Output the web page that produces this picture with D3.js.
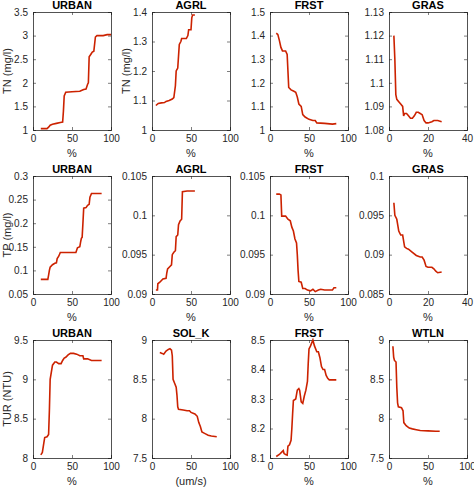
<!DOCTYPE html>
<html><head><meta charset="utf-8">
<script src="https://cdn.jsdelivr.net/npm/d3@7"></script>
<style>body{margin:0;background:#fff}text{font-family:"Liberation Sans",Arial,sans-serif}</style>
</head><body><svg id="c" width="474" height="487"></svg>
<script>
const titles=[["URBAN","AGRL","FRST","GRAS"],["URBAN","AGRL","FRST","GRAS"],["URBAN","SOL_K","FRST","WTLN"]];
const yLabels=[["TN (mg/l)","TN (mg/l)","",""],["TP (mg/l)","","",""],["TUR (NTU)","","",""]];
const xLabels=[["%","%","%","%"],["%","%","%","%"],["%","(um/s)","%","%"]];
const xDomains=[[[0,100],[0,100],[0,100],[0,40]],[[0,100],[0,100],[0,100],[0,40]],[[0,100],[0,100],[0,100],[0,100]]];
const xTicks=[[[0,50,100],[0,50,100],[0,50,100],[0,20,40]],[[0,50,100],[0,50,100],[0,50,100],[0,20,40]],[[0,50,100],[0,50,100],[0,50,100],[0,50,100]]];
const yTicks=[
 [[1,1.5,2,2.5,3,3.5],[1,1.1,1.2,1.3,1.4],[1,1.1,1.2,1.3,1.4,1.5],[1.08,1.09,1.1,1.11,1.12,1.13]],
 [[0.05,0.1,0.15,0.2,0.25,0.3],[0.09,0.095,0.1,0.105],[0.09,0.095,0.1,0.105],[0.085,0.09,0.095,0.1]],
 [[8,8.5,9,9.5],[7.5,8,8.5,9],[8.1,8.2,8.3,8.4,8.5],[7.5,8,8.5,9]]];
const tnUrban=[[10,1.03],[18,1.03],[20,1.06],[22,1.1],[25,1.12],[30,1.14],[35,1.16],[38,1.17],[39,1.4],[40,1.72],[42,1.8],[50,1.81],[60,1.82],[65,1.86],[68,1.87],[70,1.97],[71,2.0],[72,2.55],[74,2.6],[76,2.65],[78,2.67],[80,2.97],[82,3.0],[90,3.0],[95,3.02],[100,3.02]];
const tnAgrl=[[5,1.083],[8,1.09],[12,1.092],[16,1.093],[18,1.097],[22,1.1],[26,1.105],[28,1.11],[30,1.15],[31,1.2],[33,1.21],[34,1.25],[35,1.29],[37,1.3],[38,1.31],[44,1.31],[46,1.32],[47,1.34],[50,1.34],[51,1.38],[52,1.39],[55,1.39]];
const tnFrst=[[8,1.41],[10,1.405],[12,1.38],[14,1.35],[16,1.335],[20,1.335],[22,1.32],[23,1.25],[24,1.18],[27,1.17],[30,1.165],[33,1.16],[35,1.14],[37,1.11],[40,1.1],[42,1.065],[45,1.055],[50,1.045],[55,1.04],[58,1.04],[60,1.03],[70,1.028],[80,1.025],[85,1.027]];
const tnGras=[[2.5,1.12],[3,1.11],[3.5,1.095],[4,1.093],[5,1.092],[6,1.091],[7,1.09],[7.5,1.086],[8,1.087],[9,1.087],[10,1.086],[11,1.085],[12,1.085],[13,1.086],[14,1.0875],[15,1.0875],[16,1.087],[17,1.0865],[18,1.084],[19,1.083],[20,1.083],[22,1.0835],[23,1.084],[25,1.084],[27,1.0835]];
const tpUrban=[[10,0.081],[19,0.081],[20,0.09],[21,0.1],[22,0.107],[25,0.112],[28,0.115],[30,0.116],[31,0.125],[33,0.13],[35,0.138],[40,0.138],[50,0.138],[55,0.138],[57,0.148],[60,0.15],[61,0.16],[62,0.168],[63,0.17],[64,0.2],[65,0.232],[68,0.233],[70,0.238],[72,0.24],[73,0.255],[75,0.263],[88,0.263]];
const tpAgrl=[[5,0.0905],[7,0.0905],[7.5,0.0913],[10,0.0915],[14,0.0919],[18,0.092],[19,0.0927],[20,0.0932],[23,0.0935],[25,0.0937],[26,0.095],[28,0.0953],[30,0.0955],[31,0.0973],[33,0.0975],[34,0.0988],[36,0.0993],[38,0.0995],[39,0.103],[45,0.1031],[55,0.1031]];
const tpFrst=[[8,0.1027],[12,0.1027],[14,0.1026],[15,0.0999],[20,0.0999],[23,0.0995],[26,0.0993],[28,0.0985],[30,0.098],[32,0.097],[34,0.0965],[35,0.095],[36,0.093],[37,0.0916],[40,0.0915],[42,0.0907],[45,0.0907],[48,0.0905],[52,0.0904],[55,0.0906],[58,0.0903],[62,0.0905],[65,0.0906],[70,0.0905],[75,0.0905],[80,0.0905],[82,0.0908],[85,0.0908]];
const tpGras=[[2.5,0.0966],[3,0.095],[4,0.0945],[5,0.093],[6,0.0925],[7,0.0925],[8,0.091],[9,0.0908],[10,0.0907],[12,0.0903],[14,0.0899],[16,0.0897],[17,0.0897],[18,0.0893],[19,0.0885],[20,0.0884],[22,0.0884],[23,0.0882],[24,0.0879],[25,0.0877],[27,0.0878]];
const turUrban=[[10,8.04],[12,8.07],[14,8.2],[15,8.26],[18,8.27],[20,8.3],[21,8.6],[22,9.0],[25,9.18],[28,9.22],[30,9.22],[33,9.2],[36,9.2],[38,9.24],[40,9.27],[42,9.28],[45,9.31],[48,9.33],[52,9.33],[56,9.32],[60,9.3],[64,9.3],[65,9.26],[70,9.26],[75,9.24],[80,9.24],[88,9.24]];
const turSolK=[[10,8.84],[13,8.83],[15,8.82],[18,8.86],[21,8.88],[23,8.89],[25,8.87],[26,8.8],[27,8.5],[29,8.45],[31,8.4],[32,8.3],[33,8.15],[34,8.12],[40,8.11],[45,8.1],[48,8.1],[50,8.08],[55,8.06],[58,8.03],[60,7.95],[62,7.9],[64,7.83],[68,7.81],[72,7.79],[76,7.78],[83,7.77]];
const turFrst=[[8,8.105],[12,8.112],[15,8.12],[17,8.125],[18,8.115],[20,8.112],[22,8.11],[23,8.14],[25,8.145],[27,8.16],[28,8.2],[29,8.25],[30,8.295],[33,8.3],[35,8.33],[37,8.335],[38,8.33],[40,8.29],[42,8.285],[44,8.31],[46,8.33],[48,8.36],[49,8.42],[50,8.47],[52,8.48],[55,8.5],[57,8.48],[60,8.46],[62,8.46],[64,8.44],[66,8.41],[68,8.4],[70,8.4],[72,8.38],[74,8.37],[76,8.365],[80,8.365],[85,8.365]];
const turWtln=[[5,8.92],[6,8.78],[7,8.74],[9,8.72],[10,8.4],[11,8.2],[12,8.15],[16,8.14],[18,8.1],[19,7.95],[22,7.91],[26,7.88],[30,7.87],[35,7.86],[40,7.85],[50,7.845],[60,7.84],[65,7.84]];
const series=[[tnUrban,tnAgrl,tnFrst,tnGras],[tpUrban,tpAgrl,tpFrst,tpGras],[turUrban,turSolK,turFrst,turWtln]];

const svg=d3.select("#c");
const colX=[33,152,270,389], W=78, rowY=[12,176,340], H=118;
const ax="#262626";
for(let r=0;r<3;r++)for(let c=0;c<4;c++){
  const g=svg.append("g").attr("transform",`translate(${colX[c]},${rowY[r]})`);
  const yt=yTicks[r][c];
  const x=d3.scaleLinear().domain(xDomains[r][c]).range([0,W]);
  const y=d3.scaleLinear().domain([yt[0],yt[yt.length-1]]).range([H,0]);
  g.append("g").attr("transform",`translate(0,${H})`).call(d3.axisBottom(x).tickValues(xTicks[r][c]).tickSize(-3).tickPadding(5).tickFormat(d3.format("")));
  g.append("g").call(d3.axisLeft(y).tickValues(yt).tickSize(-3).tickPadding(5).tickFormat(d=>+d.toPrecision(6)+""));
  g.append("g").attr("transform",`translate(${W},0)`).call(d3.axisRight(y).tickValues(yt).tickSize(-3).tickFormat(""));
  g.append("g").call(d3.axisTop(x).tickValues(xTicks[r][c]).tickSize(-3).tickFormat(""));
  g.selectAll(".domain").attr("stroke",ax).attr("stroke-width",0.8);
  g.selectAll(".tick line").attr("stroke",ax).attr("stroke-width",0.6);
  g.selectAll(".tick text").attr("fill",ax).style("font-size","10px");
  g.append("path").datum(series[r][c]).attr("fill","none").attr("stroke","#cc2200").attr("stroke-width",1.6)
   .attr("d",d3.line().x(d=>x(d[0])).y(d=>y(d[1])));
  g.append("text").attr("x",W/2).attr("y",-3).attr("text-anchor","middle").style("font-size","11px").style("font-weight","bold").attr("fill","#000").text(titles[r][c]);
  g.append("text").attr("x",W/2).attr("y",H+27).attr("text-anchor","middle").style("font-size","11px").attr("fill",ax).text(xLabels[r][c]);
  if(yLabels[r][c]) g.append("text").attr("transform",`translate(-22,${H/2}) rotate(-90)`).attr("text-anchor","middle").style("font-size","11px").attr("fill",ax).text(yLabels[r][c]);
}
</script></body></html>
